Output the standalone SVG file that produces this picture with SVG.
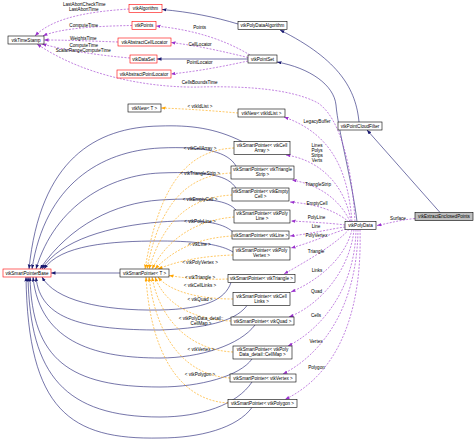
<svg xmlns="http://www.w3.org/2000/svg" width="474" height="440" viewBox="0 0 474 440">
<style>
text{font-family:"Liberation Sans",Arial,sans-serif;font-size:4.6px;text-anchor:middle;fill:#000}
.b{fill:#fff;stroke:#000;stroke-width:0.6}
.r{fill:#fff;stroke:#ff0000;stroke-width:0.6}
.g{fill:#bfbfbf;stroke:#000;stroke-width:0.6}
.n{fill:none;stroke:#191970;stroke-width:0.6;marker-end:url(#an)}
.p{fill:none;stroke:#9a32cd;stroke-width:0.6;stroke-dasharray:2,1.4;marker-end:url(#ap)}
.o{fill:none;stroke:#ffa500;stroke-width:0.6;stroke-dasharray:2,1.4;marker-end:url(#ao)}
</style>
<defs>
<marker id="an" markerUnits="userSpaceOnUse" markerWidth="5" markerHeight="4" refX="4.5" refY="1.7" orient="auto" viewBox="0 0 5 4"><path d="M0,0 L4.5,1.7 L0,3.4 z" fill="#191970"/></marker>
<marker id="ap" markerUnits="userSpaceOnUse" markerWidth="5" markerHeight="4" refX="4.5" refY="1.7" orient="auto" viewBox="0 0 5 4"><path d="M0,0 L4.5,1.7 L0,3.4 z" fill="#9a32cd"/></marker>
<marker id="ao" markerUnits="userSpaceOnUse" markerWidth="5" markerHeight="4" refX="4.5" refY="1.7" orient="auto" viewBox="0 0 5 4"><path d="M0,0 L4.5,1.7 L0,3.4 z" fill="#ffa500"/></marker>
</defs>
<rect width="474" height="440" fill="#fff"/>
<g id="edges">
<path class="n" d="M238,24 C215,17 190,12 162,9.5"/>
<path class="n" d="M248,59 L157,59"/>
<path class="n" d="M359,122 C356,90 340,60 280,30"/>
<path class="n" d="M357,221.5 C352,180 338,130 336,105 C334,85 310,68 277,62"/>
<path class="n" d="M440,212.5 L367,130"/>
<path class="n" d="M120,273 L51,273"/>
<path class="n" d="M242,141.5 C215,128 190,125 160,126 C95,127 40,160 29,269"/>
<path class="n" d="M236,166 C228,152 205,146 160,148 C100,151 45,185 32,269"/>
<path class="n" d="M236,188 C228,176 210,171 160,173 C110,175 55,205 36,269"/>
<path class="n" d="M236,210 C228,201 210,197 160,200 C115,203 70,225 40,269"/>
<path class="n" d="M233,232 C222,222 200,219 160,222 C110,226 60,240 42,269"/>
<path class="n" d="M233,252 C222,245 200,241 160,241 C110,241 60,245 44,269"/>
<path class="n" d="M231,282.5 C225,300 205,309 160,310 C100,311 55,300 42,277"/>
<path class="n" d="M247,305.5 C238,318 215,328 160,330 C85,330 40,320 36,277"/>
<path class="n" d="M255,325 C240,345 200,358 160,358 C100,358 40,345 33,277"/>
<path class="n" d="M252,359 C240,376 200,387 160,387 C70,387 32,360 30,277"/>
<path class="n" d="M252,382 C237,405 200,417 160,417 C65,417 30,375 28,277"/>
<path class="n" d="M252,407.5 C237,428 200,438 160,438 C70,440 28,410 26,277"/>
<path class="o" d="M238,113 C215,111 190,109 161,108"/>
<path class="o" d="M234,148 C190,150 160,180 145,269"/>
<path class="o" d="M231,173 C190,175 160,200 147,269"/>
<path class="o" d="M232,195 C195,197 165,215 149,269"/>
<path class="o" d="M234,217 C200,220 170,235 152,269"/>
<path class="o" d="M232,236 C200,238 175,248 155,269"/>
<path class="o" d="M233,255 C205,256 180,260 158,269"/>
<path class="o" d="M228,279 C200,280 185,278 169,275.5"/>
<path class="o" d="M233,299 C200,299 170,292 158,277"/>
<path class="o" d="M231,321 C195,320 165,305 155,277"/>
<path class="o" d="M233,352 C190,350 160,320 152,277"/>
<path class="o" d="M230,378 C180,375 155,330 149,277"/>
<path class="o" d="M228,403 C175,400 150,345 146,277"/>
<path class="p" d="M129,9 C100,11 55,15 35,36"/>
<path class="p" d="M132,25.5 C100,26 60,28 43,36"/>
<path class="p" d="M118,42 C90,41 65,40 44,40"/>
<path class="p" d="M130,58 C95,55 65,50 42,44"/>
<path class="p" d="M355,221.5 C352,165 340,118 318,103 C290,88 240,86 200,87 C160,88 90,80 37,44"/>
<path class="p" d="M250,55 C225,40 195,30 156,26"/>
<path class="p" d="M248,57.5 C225,52 200,46 171,42.5"/>
<path class="p" d="M248,61 C225,66 200,71 171,74"/>
<path class="p" d="M352,221.5 C348,175 335,135 284,117"/>
<path class="p" d="M351,221.5 C345,185 320,160 286,155"/>
<path class="p" d="M350,221.5 C340,200 320,185 292,180"/>
<path class="p" d="M349,222 C335,210 315,204 290,202"/>
<path class="p" d="M345,225 C330,223 310,222 291,221"/>
<path class="p" d="M345,227 C330,229 310,234 290,236"/>
<path class="p" d="M346,229 C330,234 310,243 291,248"/>
<path class="p" d="M349,229.5 C335,245 305,262 284,274"/>
<path class="p" d="M352,229.5 C345,260 315,282 291,292"/>
<path class="p" d="M354,229.5 C350,270 320,305 289,317"/>
<path class="p" d="M356,229.5 C355,290 320,330 288,346"/>
<path class="p" d="M358,229.5 C357,310 320,355 283,374"/>
<path class="p" d="M360,229.5 C362,300 345,370 285,399.5"/>
<path class="p" d="M415,218.5 C400,220 390,223 377,225.5"/>
<text x="84.3" y="5.8">LastAbortCheckTime</text>
<text x="83.8" y="10.5">LastAbortTime</text>
<text x="83.7" y="27">ComputeTime</text>
<text x="83.3" y="39.8">WeightsTime</text>
<text x="83.8" y="46.5">ComputeTime</text>
<text x="83.3" y="52">ScalarRangeComputeTime</text>
<text x="199.7" y="28.7">Points</text>
<text x="200" y="45.5">CellLocator</text>
<text x="199.7" y="63.8">PointLocator</text>
<text x="199.7" y="83.8">CellsBoundsTime</text>
<text x="200" y="108">&lt; vtkIdList &gt;</text>
<text x="200" y="149.8">&lt; vtkCellArray &gt;</text>
<text x="200" y="175">&lt; vtkTriangleStrip &gt;</text>
<text x="200" y="200.5">&lt; vtkEmptyCell &gt;</text>
<text x="200" y="223">&lt; vtkPolyLine &gt;</text>
<text x="199.5" y="245.5">&lt; vtkLine &gt;</text>
<text x="200" y="264">&lt; vtkPolyVertex &gt;</text>
<text x="200" y="279">&lt; vtkTriangle &gt;</text>
<text x="200" y="286.5">&lt; vtkCellLinks &gt;</text>
<text x="200" y="300.5">&lt; vtkQuad &gt;</text>
<text x="201" y="320">&lt; vtkPolyData_detail::</text>
<text x="201" y="324.5">CellMap &gt;</text>
<text x="201" y="350.5">&lt; vtkVertex &gt;</text>
<text x="200" y="375.5">&lt; vtkPolygon &gt;</text>
<text x="317" y="123">LegacyBuffer</text>
<text x="317" y="147">Lines</text>
<text x="317" y="152">Polys</text>
<text x="317" y="157">Strips</text>
<text x="317" y="162">Verts</text>
<text x="318" y="185.5">TriangleStrip</text>
<text x="317" y="205">EmptyCell</text>
<text x="316.5" y="219">PolyLine</text>
<text x="316" y="228">Line</text>
<text x="316.5" y="237">PolyVertex</text>
<text x="316" y="252.5">Triangle</text>
<text x="317" y="272">Links</text>
<text x="316.5" y="293">Quad</text>
<text x="316" y="316.5">Cells</text>
<text x="316" y="342.5">Vertex</text>
<text x="316.5" y="369">Polygon</text>
<text x="398" y="219.5">Surface</text>
</g>
<g id="vtkAlgorithm"><rect class="r" x="129" y="4.5" width="33" height="8"/><text x="145.5" y="10.15">vtkAlgorithm</text></g>
<g id="vtkPoints"><rect class="r" x="132" y="21.5" width="24" height="8"/><text x="144" y="27.15">vtkPoints</text></g>
<g id="vtkAbstractCellLocator"><rect class="r" x="118" y="38" width="53" height="8"/><text x="144.5" y="43.65">vtkAbstractCellLocator</text></g>
<g id="vtkDataSet"><rect class="r" x="130" y="55" width="27" height="8"/><text x="143.5" y="60.65">vtkDataSet</text></g>
<g id="vtkAbstractPointLocator"><rect class="r" x="117" y="70" width="54" height="8"/><text x="144" y="75.65">vtkAbstractPointLocator</text></g>
<g id="vtkTimeStamp"><rect class="b" x="8" y="36" width="36" height="8"/><text x="26" y="41.65">vtkTimeStamp</text></g>
<g id="vtkPolyDataAlgorithm"><rect class="b" x="238" y="21.5" width="49" height="8"/><text x="262.5" y="27.15">vtkPolyDataAlgorithm</text></g>
<g id="vtkPointSet"><rect class="b" x="248" y="55" width="29" height="8"/><text x="262.5" y="60.65">vtkPointSet</text></g>
<g id="vtkNew_T"><rect class="b" x="128" y="104" width="33" height="8"/><text x="144.5" y="109.65">vtkNew&lt; T &gt;</text></g>
<g id="vtkNew_vtkIdList"><rect class="b" x="238" y="109" width="47" height="8"/><text x="261.5" y="114.65">vtkNew&lt; vtkIdList &gt;</text></g>
<g id="vtkPointCloudFilter"><rect class="b" x="338" y="122" width="44" height="8"/><text x="360" y="127.65">vtkPointCloudFilter</text></g>
<g id="vtkExtractEnclosedPoints"><rect class="g" x="415" y="212.5" width="58" height="8"/><text x="444" y="218.15">vtkExtractEnclosedPoints</text></g>
<g id="vtkPolyData"><rect class="b" x="345" y="221.5" width="31" height="8"/><text x="360.5" y="227.15">vtkPolyData</text></g>
<g id="vtkSmartPointerBase"><rect class="r" x="3" y="269" width="48" height="8"/><text x="27" y="274.65">vtkSmartPointerBase</text></g>
<g id="vtkSmartPointer_T"><rect class="b" x="120" y="269" width="49" height="8"/><text x="144.5" y="274.65">vtkSmartPointer&lt; T &gt;</text></g>
<g id="sp_CellArray"><rect class="b" x="234" y="141.5" width="56" height="13"/><text x="262" y="146.9">vtkSmartPointer&lt; vtkCell</text><text x="262" y="151.9">Array &gt;</text></g>
<g id="sp_TriangleStrip"><rect class="b" x="231" y="166" width="63" height="13"/><text x="262.5" y="171.4">vtkSmartPointer&lt; vtkTriangle</text><text x="262.5" y="176.4">Strip &gt;</text></g>
<g id="sp_EmptyCell"><rect class="b" x="232" y="188" width="57" height="13"/><text x="260.5" y="193.4">vtkSmartPointer&lt; vtkEmpty</text><text x="260.5" y="198.4">Cell &gt;</text></g>
<g id="sp_PolyLine"><rect class="b" x="234" y="210" width="56" height="13"/><text x="262" y="215.4">vtkSmartPointer&lt; vtkPoly</text><text x="262" y="220.4">Line &gt;</text></g>
<g id="sp_Line"><rect class="b" x="232" y="231" width="57" height="8"/><text x="260.5" y="236.65">vtkSmartPointer&lt; vtkLine &gt;</text></g>
<g id="sp_PolyVertex"><rect class="b" x="233" y="247" width="57" height="13"/><text x="261.5" y="252.4">vtkSmartPointer&lt; vtkPoly</text><text x="261.5" y="257.4">Vertex &gt;</text></g>
<g id="sp_Triangle"><rect class="b" x="228" y="274.5" width="67" height="8"/><text x="261.5" y="280.15">vtkSmartPointer&lt; vtkTriangle &gt;</text></g>
<g id="sp_CellLinks"><rect class="b" x="233" y="292.5" width="57" height="13"/><text x="261.5" y="297.9">vtkSmartPointer&lt; vtkCell</text><text x="261.5" y="302.9">Links &gt;</text></g>
<g id="sp_Quad"><rect class="b" x="231" y="317" width="63" height="8"/><text x="262.5" y="322.65">vtkSmartPointer&lt; vtkQuad &gt;</text></g>
<g id="sp_CellMap"><rect class="b" x="233" y="346" width="59" height="13"/><text x="262.5" y="351.4">vtkSmartPointer&lt; vtkPoly</text><text x="262.5" y="356.4">Data_detail::CellMap &gt;</text></g>
<g id="sp_Vertex"><rect class="b" x="230" y="374" width="66" height="8"/><text x="263" y="379.65">vtkSmartPointer&lt; vtkVertex &gt;</text></g>
<g id="sp_Polygon"><rect class="b" x="228" y="399.5" width="69" height="8"/><text x="262.5" y="405.15">vtkSmartPointer&lt; vtkPolygon &gt;</text></g>
</svg>
